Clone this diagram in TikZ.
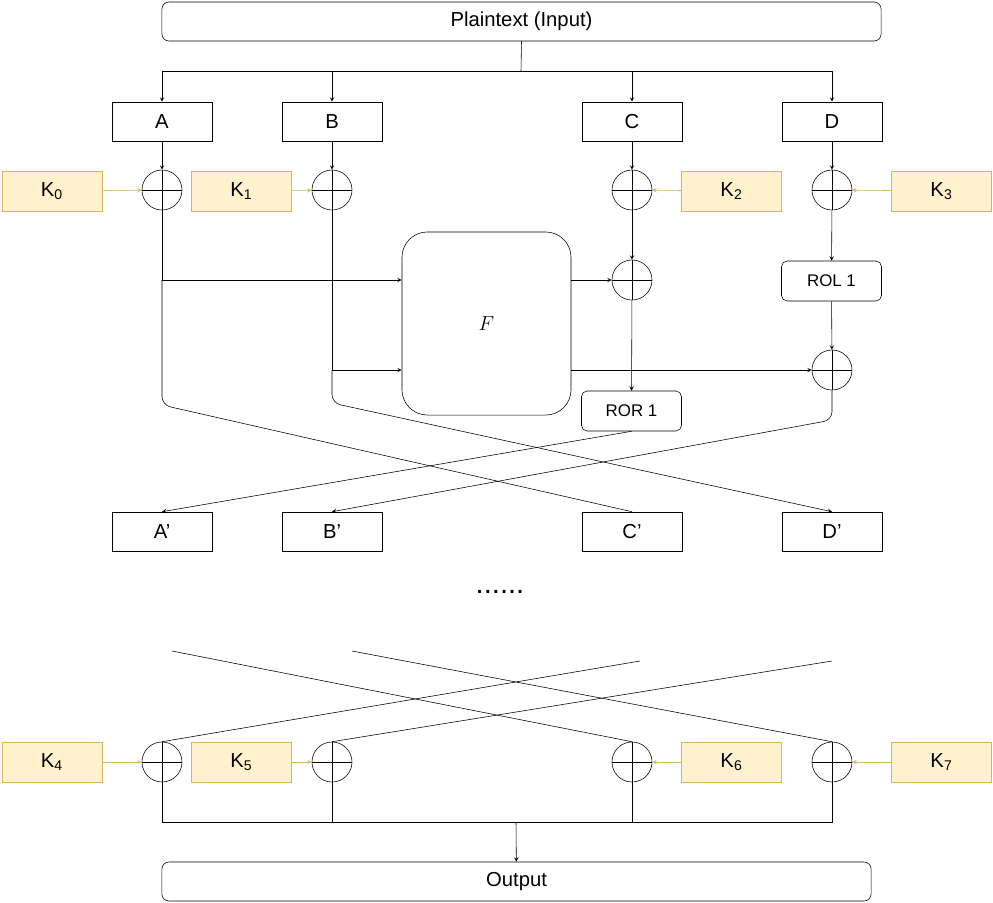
\documentclass[tikz,border=0pt]{standalone}
\usepackage{fontspec}
\setmainfont{Liberation Sans}
\usetikzlibrary{positioning}
\definecolor{kfill}{HTML}{FFF2CC}
\definecolor{kdraw}{HTML}{D6B656}
\begin{document}
\begin{tikzpicture}[x=0.025cm,y=-0.025cm,>=stealth,
    blk/.style={draw,minimum width=2.5cm,minimum height=0.975cm,inner sep=0pt,font=\Large},
    key/.style={draw=kdraw,fill=kfill,minimum width=2.5cm,minimum height=1cm,inner sep=0pt,font=\Large},
    xr/.style={draw,circle,minimum size=1cm,inner sep=0pt,path picture={
        \draw (path picture bounding box.north) -- (path picture bounding box.south)
              (path picture bounding box.west) -- (path picture bounding box.east);}},
    small/.style={draw,rounded corners=4pt,minimum width=2.5cm,minimum height=1cm,inner sep=0pt,font=\large},
    karr/.style={->,draw=kdraw}]
    \useasboundingbox (0,0) rectangle (993,902);
    % top
    \node [draw,rounded corners=5pt,minimum width=17.975cm,minimum height=0.975cm,font=\Large] (pt) at (521.5,21.5) {Plaintext (Input)};
    \foreach \n/\x in {A/162,B/332,C/632,D/832} {
        \node [blk] (\n) at (\x,121.5) {\n};
        \node [blk] (\n') at (\x,531.5) {\n'};
        \node [xr] (x\n) at (\x,190) {};
        \node [xr] (y\n) at (\x,762) {};
    }
    \coordinate (t) at (521,71);
    \draw (pt.south) -- (t);
    \foreach \n in {A,B,C,D} \draw [->] (t) -| (\n.north);
    \foreach \n in {A,B,C,D} \draw [->] (\n) -- (x\n);
    % keys
    \node [key] (k0) at (52,191) {K\textsubscript{0}};
    \node [key] (k1) at (241.5,191) {K\textsubscript{1}};
    \node [key] (k2) at (731.5,191) {K\textsubscript{2}};
    \node [key] (k3) at (941.5,191) {K\textsubscript{3}};
    \node [key] (k4) at (52,762) {K\textsubscript{4}};
    \node [key] (k5) at (241.5,762) {K\textsubscript{5}};
    \node [key] (k6) at (731.5,762) {K\textsubscript{6}};
    \node [key] (k7) at (941.5,762) {K\textsubscript{7}};
    \draw [karr] (k0) -- (xA); \draw [karr] (k1) -- (xB);
    \draw [karr] (k2) -- (xC); \draw [karr] (k3) -- (xD);
    \draw [karr] (k4) -- (yA); \draw [karr] (k5) -- (yB);
    \draw [karr] (k6) -- (yC); \draw [karr] (k7) -- (yD);
    % round function
    \node [draw,rounded corners=18pt,minimum width=4.225cm,minimum height=4.575cm,font=\Large] (F) at (486.5,323.5) {$F$};
    \node [xr] (zC) at (632,280) {};
    \node [xr] (zD) at (832,370) {};
    \node [small] (ror) at (631.5,411) {ROR 1};
    \node [small] (rol) at (831.5,281) {ROL 1};
    \draw [->] (xA.south) -- (162,280) -- (F.west |- 0,280);
    \draw [->] (xB.south) -- (332,370) -- (F.west |- 0,370);
    \draw [->] (F.east |- 0,280) -- (zC);
    \draw [->] (F.east |- 0,370) -- (zD);
    \draw [->] (xC) -- (zC);
    \draw [->] (zC) -- (ror);
    \draw [->] (xD) -- (rol);
    \draw [->] (rol) -- (zD);
    % swaps
    \draw [rounded corners=6pt] (162,280) -- (162,405) -- (C'.north);
    \draw [->,rounded corners=6pt] (332,370) -- (332,403) -- (D'.north);
    \draw [->] (ror.south) -- (A'.north);
    \draw [->,rounded corners=6pt] (zD.south) -- (832,420) -- (B'.north);
    \node [font=\huge] (dots) at (500,592) {......};
    % last round
    \coordinate (a1) at (172,651); \coordinate (b1) at (352,651);
    \coordinate (c1) at (640,661); \coordinate (d1) at (832,661);
    \draw (a1) -- (yC.north); \draw (b1) -- (yD.north);
    \draw (yA.north) -- (c1); \draw (yB.north) -- (d1);
    \node [draw,rounded corners=5pt,minimum width=17.725cm,minimum height=0.975cm,font=\Large] (out) at (516.5,881.5) {Output};
    \coordinate (m) at (516,822);
    \draw (yA) |- (m) -| (yD);
    \draw (yB) -- (332,822); \draw (yC) -- (632,822);
    \draw [->] (m) -- (out);
\end{tikzpicture}
\end{document}
